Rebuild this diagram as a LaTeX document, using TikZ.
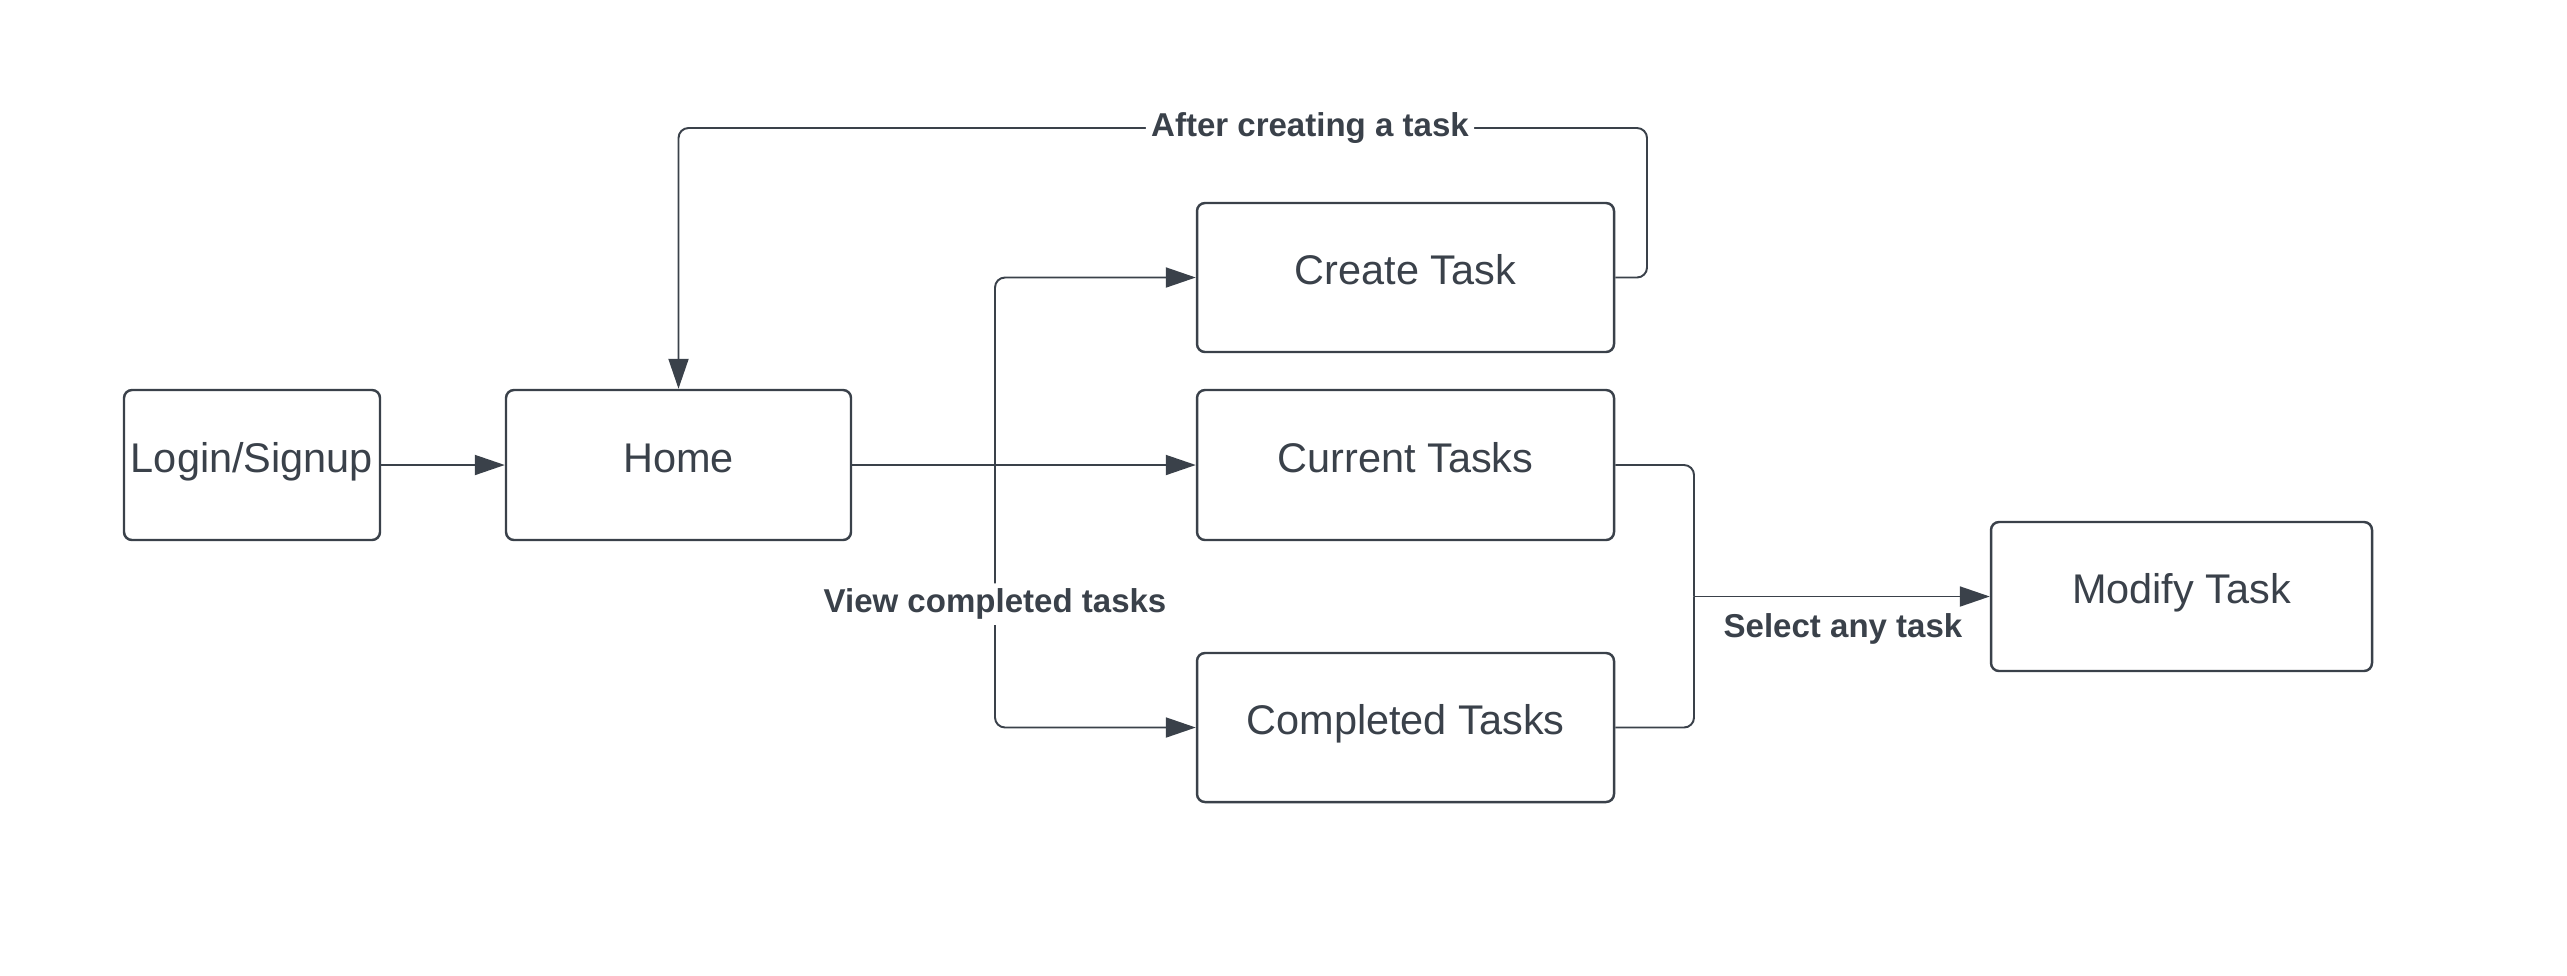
\documentclass[tikz,border=0pt]{standalone}
\usepackage{fontspec}
\setmainfont{Liberation Sans}
\usetikzlibrary{arrows.meta}
\definecolor{ink}{HTML}{3A414A}

\begin{document}
\begin{tikzpicture}[x=1cm,y=-1cm,
  box/.style={draw=ink,line width=0.7pt,rounded corners=0.08cm,inner sep=0pt,text=ink,
    font=\fontsize{11.8}{14}\selectfont,text height=0.30cm,text depth=0.16cm},
  wire/.style={draw=ink,line width=0.55pt,rounded corners=0.1cm},
  link/.style={wire,-{Triangle[length=0.3cm,width=0.2cm]}},
  tag/.style={text=ink,font=\bfseries\fontsize{9.4}{11}\selectfont,inner sep=1.5pt}]
\useasboundingbox (0,0) rectangle (25.67,9.75);

\node[box,minimum width=2.56cm,minimum height=1.50cm] (login) at (2.52,4.65) {Login/Signup};
\node[box,minimum width=3.45cm,minimum height=1.50cm] (home) at (6.785,4.65) {Home};
\node[box,minimum width=4.17cm,minimum height=1.49cm] (create) at (14.055,2.775) {Create Task};
\node[box,minimum width=4.17cm,minimum height=1.50cm] (current) at (14.055,4.65) {Current Tasks};
\node[box,minimum width=4.17cm,minimum height=1.49cm] (completed) at (14.055,7.275) {Completed Tasks};
\node[box,minimum width=3.81cm,minimum height=1.49cm] (modify) at (21.815,5.965) {Modify Task};

\coordinate (split) at (9.95,4.65);
\coordinate (loopup) at (16.47,1.28);
\coordinate (join) at (16.94,5.965);

\draw[link] (login) -- (home);
\draw[link] (home) -- (current);
\draw[link] (split) |- (create);
\draw[link] (split) |- node[tag,fill=white,pos=0.265] (viewtag) {View completed tasks} (completed);
\draw[link] (create.east) -| (loopup) -| node[tag,fill=white,pos=0.174] (aftertag) {After creating a task} (home.north);
\draw[wire] (current.east) -| (join);
\draw[wire] (completed.east) -| (join);
\draw[link] (join) -- (modify);
\node[tag] (selecttag) at (18.43,6.29) {Select any task};
\end{tikzpicture}
\end{document}
